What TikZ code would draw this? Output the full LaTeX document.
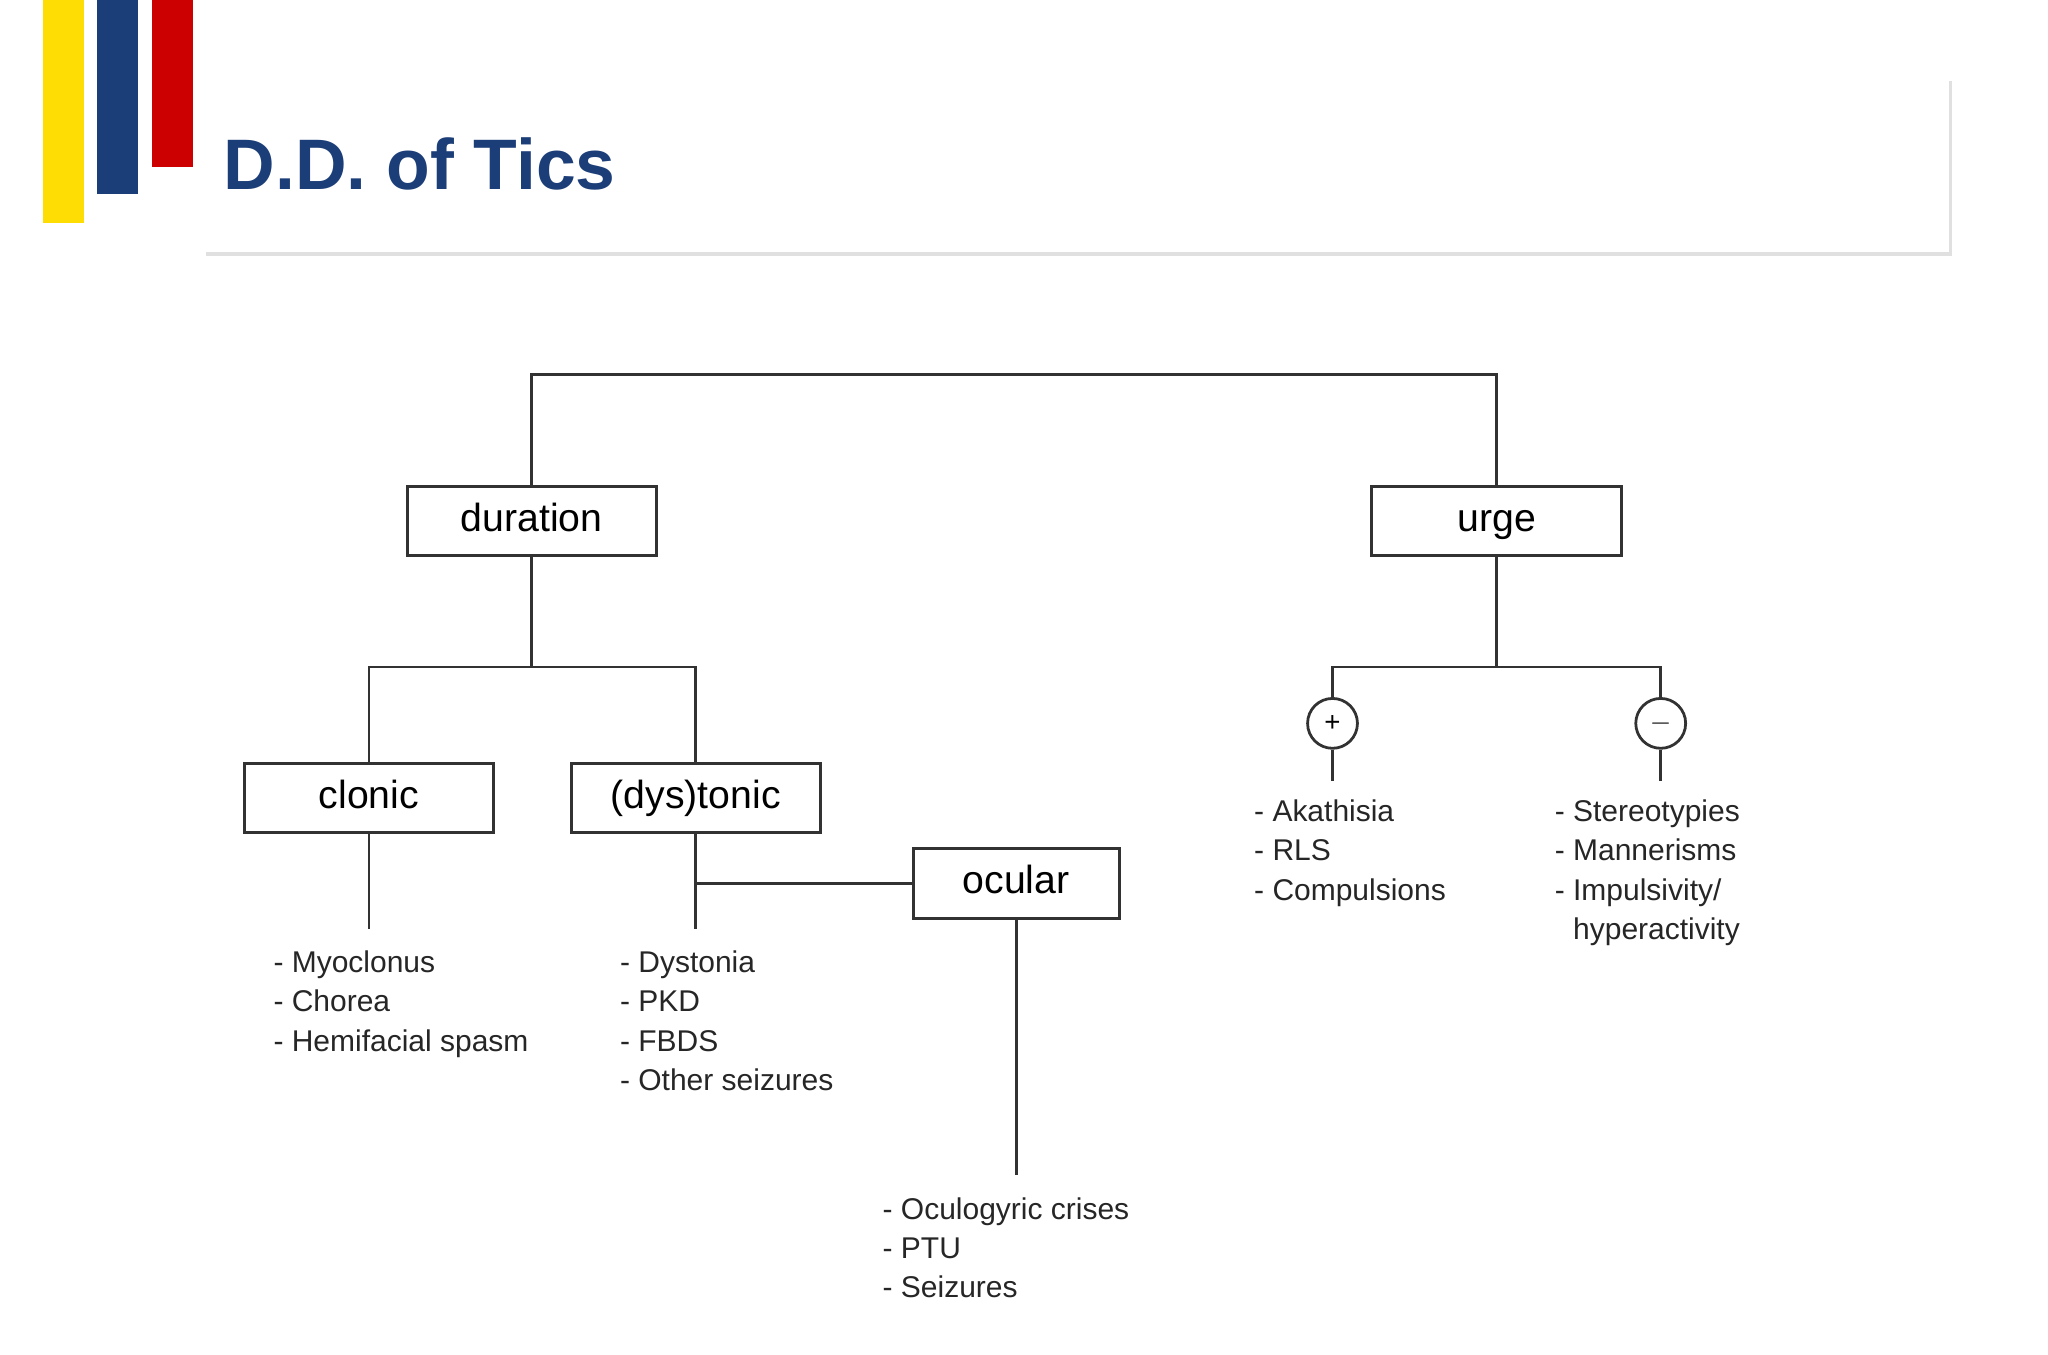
\documentclass[tikz,border=0pt]{standalone}
\usepackage{fontspec}
\setmainfont{Liberation Sans}
\definecolor{ttl}{RGB}{28,62,120}
\definecolor{ln}{RGB}{50,50,50}
\begin{document}
\begin{tikzpicture}[x=0.02cm,y=-0.02cm,
  bx/.style={draw=ln,line width=1.3pt,minimum width=3.8cm,minimum height=1.06cm,font=\fontsize{17}{20}\selectfont,inner sep=0pt,text height=12pt,text depth=3.5pt},
  ocbx/.style={bx,minimum width=3.14cm},
  lst/.style={anchor=north west,align=left,font=\fontsize{13}{17.0}\selectfont,inner sep=0pt,text=black!85},
  ed/.style={draw=ln,line width=1.2pt},
  sg/.style={circle,draw=ln,line width=1.2pt,minimum size=0.76cm,inner sep=0pt,font=\fontsize{12}{12}\selectfont}]
\useasboundingbox (0,0) rectangle (1560,1032);
\fill[white] (0,0) rectangle (1560,1032);
% header bars
\fill[yellow!80!orange] (33,0) rectangle (64,170);
\fill[ttl] (74,0) rectangle (105,148);
\fill[red!80!black] (116,0) rectangle (147,127);
\fill[black!12] (157,62) rectangle (1487,195);
\node[fill=white,minimum width=26.6cm,minimum height=2.68cm,inner sep=0pt] (hdr) at (820,125) {};
\node[anchor=west,text=ttl,font=\bfseries\fontsize{31}{34}\selectfont,inner sep=0pt] (title) at (170,125) {D.D. of Tics};
% nodes
\node[bx] (dur) at (405,397) {duration};
\node[bx] (urge) at (1140,397) {urge};
\node[bx] (clon) at (281,608) {clonic};
\node[bx] (dyst) at (530,608) {(dys)tonic};
\node[ocbx] (ocul) at (774,673) {ocular};
\node[sg] (plus) at (1015,551) {+};
\node[sg] (minus) at (1265,551) {$-$};
\coordinate (j1) at (405,508);
\coordinate (j2) at (1140,508);
\coordinate (ce) at (281,708);
\coordinate (de) at (530,708);
\coordinate (dm) at (530,673);
\coordinate (oe) at (774,895);
\coordinate (pe) at (1015,595);
\coordinate (me) at (1265,595);
% edges
\draw[ed] (dur.north) |- (1140,285) -- (urge.north);
\draw[ed] (dur.south) -- (j1);
\draw[ed] (clon.north) |- (530,508) -- (dyst.north);
\draw[ed] (urge.south) -- (j2);
\draw[ed] (plus.north) |- (1265,508) -- (minus.north);
\draw[ed] (clon.south) -- (ce);
\draw[ed] (dyst.south) -- (de);
\draw[ed] (dm) -- (ocul.west);
\draw[ed] (ocul.south) -- (oe);
\draw[ed] (plus.south) -- (pe);
\draw[ed] (minus.south) -- (me);
% lists
\node[lst] (l1) at (208,724) {- Myoclonus\\- Chorea\\- Hemifacial spasm};
\node[lst] (l2) at (472,724) {- Dystonia\\- PKD\\- FBDS\\- Other seizures};
\node[lst] (l3) at (672,912) {- Oculogyric crises\\- PTU\\- Seizures};
\node[lst] (l4) at (955,609) {- Akathisia\\- RLS\\- Compulsions};
\node[lst] (l5) at (1184,609) {- Stereotypies\\- Mannerisms\\- Impulsivity/\\\phantom{- }hyperactivity};
\end{tikzpicture}
\end{document}
